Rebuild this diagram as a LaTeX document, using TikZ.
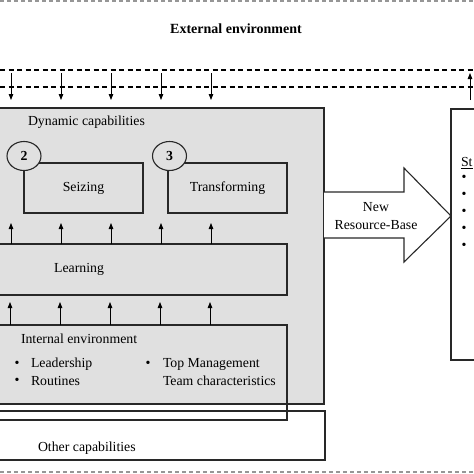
\documentclass[tikz,border=0pt]{standalone}
\usepackage{fontspec}
\setmainfont{Liberation Serif}
\usetikzlibrary{arrows.meta,shapes.geometric}
\definecolor{boxgray}{RGB}{224,224,224}
\definecolor{edge}{RGB}{40,40,40}
\definecolor{dashgray}{RGB}{150,150,150}
\begin{document}
\begin{tikzpicture}[x=1pt,y=-1pt,
  every node/.style={font=\fontsize{13.8}{16}\selectfont, inner sep=0pt, outer sep=0pt},
  rect/.style={draw=edge, line width=1.1pt, anchor=north west},
  numcirc/.style={ellipse, draw=edge, line width=1.1pt, fill=boxgray, minimum width=34pt, minimum height=29pt, font=\bfseries\fontsize{13.8}{16}\selectfont},
  dashline/.style={line width=1.1pt, dash pattern=on 5pt off 3.5pt},
  graydash/.style={dashgray, line width=2pt, dash pattern=on 4pt off 3pt},
  arr/.style={line width=0.8pt, -{Triangle[length=6pt,width=4.5pt]}},
  bul/.style={font=\fontsize{14}{16}\selectfont},
  txt/.style={anchor=west}]
\useasboundingbox (0,0) rectangle (474,474);
% outer gray dashed borders
\draw[graydash] (0,1) -- (474,1);
\draw[graydash] (0,472) -- (474,472);
% title
\node[font=\bfseries\fontsize{14}{16}\selectfont] (ext) at (236,29) {External environment};
% dashed lines
\draw[dashline] (0,70) -- (474,70);
\draw[dashline] (0,87) -- (474,87);
% main panels
\node[rect, fill=boxgray, minimum width=329pt, minimum height=296pt] (dyn) at (-5,108) {};
\node[rect, fill=white, minimum width=330pt, minimum height=49pt] (other) at (-5,411) {};
\node[rect, minimum width=292pt, minimum height=95pt] (inten) at (-5,325) {};
\node[rect, fill=boxgray, minimum width=119pt, minimum height=50pt] (seize) at (24,163) {};
\node[rect, fill=boxgray, minimum width=119pt, minimum height=50pt] (trans) at (168,163) {};
\node[numcirc] (c2) at (24,156) {2};
\node[numcirc] (c3) at (169.5,156) {3};
\node[rect, fill=boxgray, minimum width=292pt, minimum height=51pt] (learn) at (-5,244) {};
\node[rect, fill=white, minimum width=40pt, minimum height=251pt] (right) at (451,109) {};
% texts
\node[txt] (dyntxt) at (28,122) {Dynamic capabilities};
\node (seizetxt) at (83.5,188) {Seizing};
\node (transtxt) at (227.5,188) {Transforming};
\node (learntxt) at (79,269) {Learning};
\node[txt] (intxt) at (21,339) {Internal environment};
\node[bul] (b1) at (17,364) {\textbullet};
\node[txt] (lead) at (31,364) {Leadership};
\node[bul] (b2) at (17,381) {\textbullet};
\node[txt] (rout) at (31,381) {Routines};
\node[bul] (b3) at (148,364) {\textbullet};
\node[txt] (tmt) at (163,364) {Top Management};
\node[txt] (tmt2) at (163,381) {Team characteristics};
\node[txt] (othertxt) at (38,448) {Other capabilities};
\node[txt] (st) at (461,163) {\underline{St}};
\foreach \yy [count=\i] in {178,195,212,229,246}
  \node[bul] (rb\i) at (464,\yy) {\textbullet};
% block arrow
\draw[draw=edge, line width=1.1pt, fill=white] (dyn.east |- 0,192) -- (404,192) -- (404,168) -- (right.west |- 0,216) -- (404,262) -- (404,238) -- (dyn.east |- 0,238);
\node[align=center, font=\fontsize{13.8}{18}\selectfont] (nrb) at (376,216) {New\\Resource-Base};
% small arrows
\foreach \xx in {11,61,111,161,211} {
  \coordinate (top\xx) at (\xx,73);
  \draw[arr, shorten >=8pt] (top\xx) -- (dyn.north -| top\xx);
  \draw[arr, shorten >=10pt] (learn.north -| top\xx) -- (seize.south -| top\xx);
}
\foreach \xx in {10,60,110,160,210} {
  \coordinate (ib\xx) at (\xx,325);
  \draw[arr, shorten >=7pt] (inten.north -| ib\xx) -- (learn.south -| ib\xx);
}
\coordinate (upend) at (470,73);
\draw[arr] (right.north -| upend) ++(0,-9) -- (upend);
\end{tikzpicture}
\end{document}
